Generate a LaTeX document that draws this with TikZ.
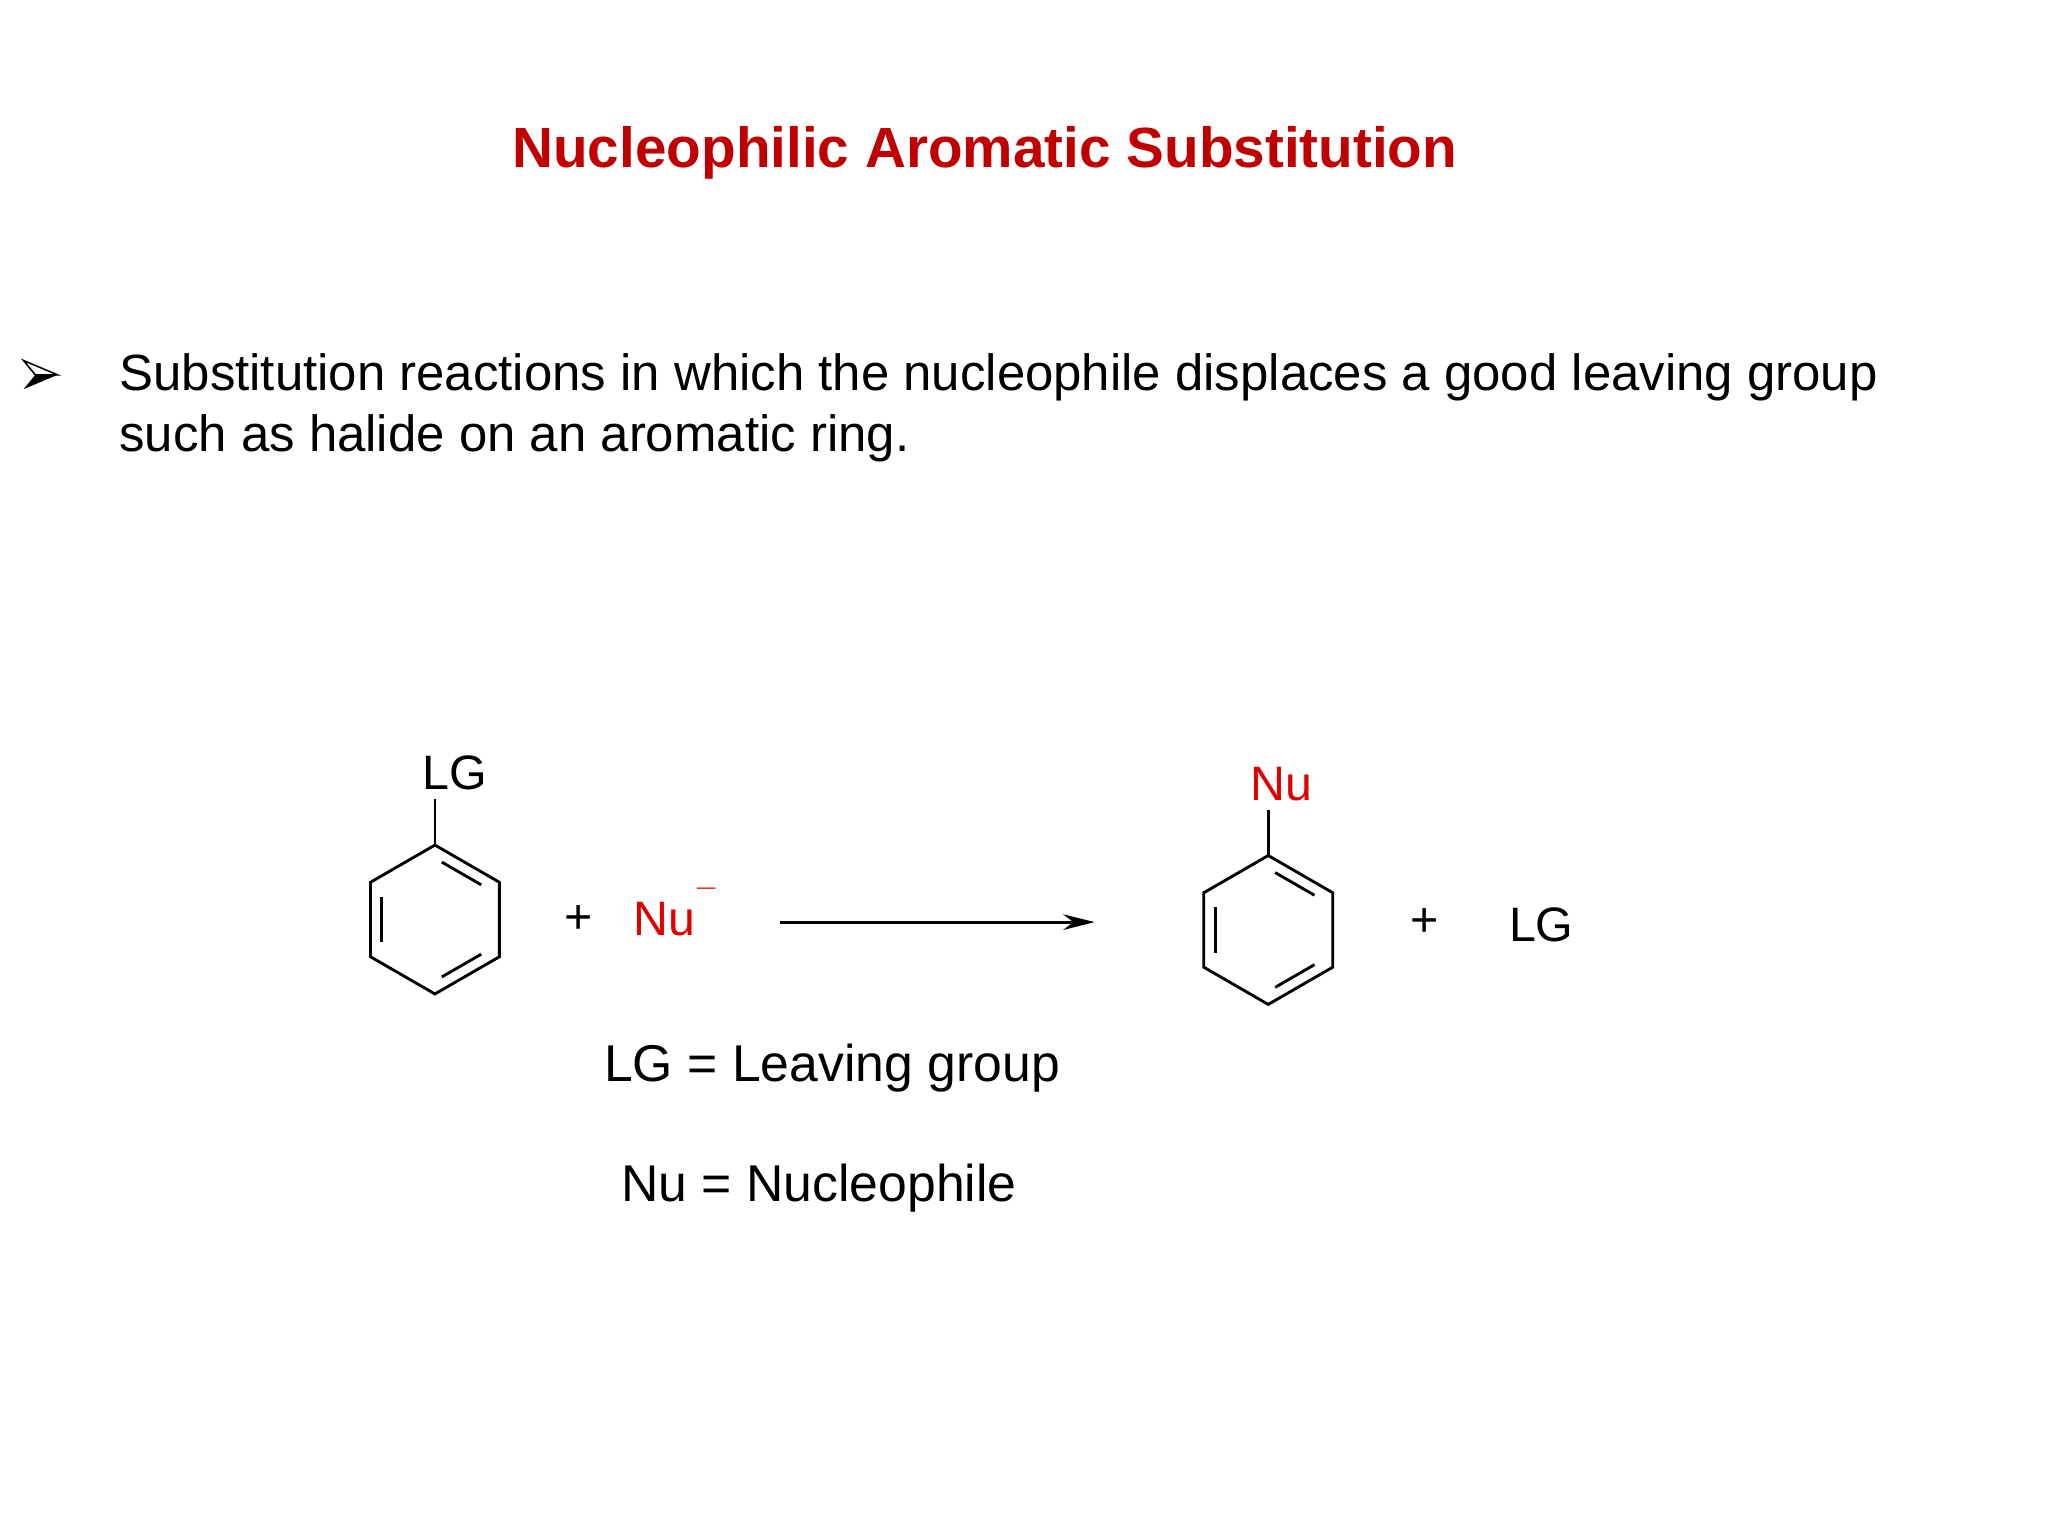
\documentclass[tikz,border=0pt]{standalone}
\usepackage{fontspec}
\setmainfont{Liberation Sans}
\usetikzlibrary{arrows.meta,calc}
\definecolor{titlered}{HTML}{C00000}
\definecolor{nured}{HTML}{E00000}
\tikzset{bond/.style={line width=1.1pt,line join=miter},
 chem/.style={font=\fontsize{18.5}{22}\selectfont,inner sep=0pt},
 body/.style={font=\fontsize{19.5}{23}\selectfont,inner sep=0pt,anchor=base west}}
\begin{document}
\begin{tikzpicture}[x=0.5pt,y=-0.5pt]
\useasboundingbox (0,0) rectangle (1568,1176);
\node[font=\fontsize{21.7}{26}\selectfont\bfseries,text=titlered] (title) at (754,117) {Nucleophilic Aromatic Substitution};
% bullet
\fill (18,276) -- (44,287) -- (18,298) -- (27,287) -- cycle;
\draw[line width=0.6pt,fill=white] (18,276) -- (44,287) -- (27,287) -- cycle;
\node[body] (l1) at (91,299) {Substitution reactions in which the nucleophile displaces a good leaving group};
\node[body] (l2) at (91,346) {such as halide on an aromatic ring.};
% benzenes
\foreach \cx/\cy in {333/704,971/712}{
 \begin{scope}[shift={(\cx,\cy)}]
 \draw[bond] (90:57) -- (150:57) -- (210:57) -- (270:57) -- (330:57) -- (30:57) -- cycle;
 \foreach \a in {30,150,270}{
  \draw[bond] ($(\a:47)!0.13!(\a+60:47)$) -- ($(\a+60:47)!0.13!(\a:47)$);}
 \end{scope}
}
\coordinate (b1) at (333,647);
\coordinate (b2) at (971,655);
\node[chem] (lg1) at (348,592) {LG};
\draw[bond] (b1) -- (333,612);
\node[chem,text=nured] (nu2) at (981,600) {Nu};
\draw[bond] (b2) -- (971,620);
\node[chem] (p1) at (443,704) {+};
\node[chem,text=nured] (nu1) at (509,704) {Nu};
\node[chem,font=\fontsize{12}{14}\selectfont,text=nured] (minus) at (541,680) {$-$};
\coordinate (a1) at (597,706);
\coordinate (a2) at (838,706);
\draw[line width=1.1pt,-{Stealth[length=12pt,width=6pt]}] (a1) -- (a2);
\node[chem] (p2) at (1091,706) {+};
\node[chem] (lg2) at (1180,708) {LG};
\node[chem,font=\fontsize{19.8}{23}\selectfont] (d1) at (637,818) {LG = Leaving group};
\node[chem,font=\fontsize{19.8}{23}\selectfont] (d2) at (627,910) {Nu = Nucleophile};
\end{tikzpicture}
\end{document}
